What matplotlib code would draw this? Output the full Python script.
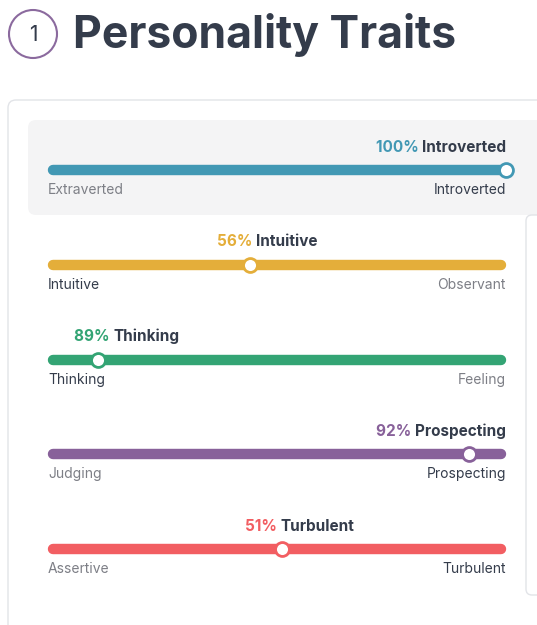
import matplotlib
matplotlib.use("Agg")
import matplotlib.pyplot as plt
from matplotlib.patches import Circle, FancyBboxPatch

traits = ["Introverted", "Intuitive", "Thinking", "Prospecting", "Turbulent"]
percents = [100, 56, 89, 92, 51]
left_labels = ["Extraverted", "Intuitive", "Thinking", "Judging", "Assertive"]
right_labels = ["Introverted", "Observant", "Feeling", "Prospecting", "Turbulent"]
chosen_right = [True, False, False, True, True]
colors = ["#4298b4", "#e4ae3a", "#33a474", "#88619a", "#f25e62"]

W, H = 537, 625
fig = plt.figure(figsize=(W / 100, H / 100), dpi=100)
ax = fig.add_axes([0, 0, 1, 1])
ax.set_xlim(0, W); ax.set_ylim(H, 0); ax.axis("off")
plt.rcParams["font.family"] = ["Inter", "DejaVu Sans"]

dark = "#343c4b"; grey = "#7d7f86"
# header
ax.add_patch(Circle((33, 34), 24, fill=False, ec="#8b6a9e", lw=1.5))
ax.text(33, 35, "1", ha="center", va="center", fontsize=15, color=dark)
ax.text(73, 35, "Personality Traits", ha="left", va="center", fontsize=32,
        fontweight="bold", color=dark)
# card
ax.add_patch(FancyBboxPatch((8, 100), 560, 600, boxstyle="round,pad=0,rounding_size=8",
                            fc="white", ec="#e2e4e8", lw=1))
ax.add_patch(FancyBboxPatch((28, 120), 540, 95, boxstyle="round,pad=0,rounding_size=8",
                            fc="#f4f4f5", ec="none"))
ax.add_patch(FancyBboxPatch((526, 215), 20, 380, boxstyle="round,pad=0,rounding_size=6",
                            fc="white", ec="#e2e4e8", lw=1))

x0, x1 = 48, 506
cap = 5
fig.canvas.draw()
r = fig.canvas.get_renderer()
for i, t in enumerate(traits):
    y = 170 + i * 94.8
    c = colors[i]
    ax.plot([x0 + cap, x1 - cap], [y, y], color=c, lw=7.5, solid_capstyle="round", zorder=2)
    frac = percents[i] / 100 if chosen_right[i] else 1 - percents[i] / 100
    mx = x0 + frac * (x1 - x0)
    ax.plot(mx, y, "o", ms=10, mfc="white", mec=c, mew=2, zorder=3)
    # label above
    p = ax.text(0, y - 23, f"{percents[i]}% ", fontsize=11, fontweight="bold", color=c, va="center")
    n = ax.text(0, y - 23, t, fontsize=11, fontweight="bold", color=dark, va="center")
    wp = p.get_window_extent(r).width; wn = n.get_window_extent(r).width
    start = min(max(mx + 18 - (wp + wn) / 2, x0 + 26), x1 - wp - wn)
    p.set_x(start); n.set_x(start + wp)
    ax.text(x0, y + 20, left_labels[i], fontsize=10, va="center", ha="left",
            color=grey if chosen_right[i] else dark)
    ax.text(x1, y + 20, right_labels[i], fontsize=10, va="center", ha="right",
            color=dark if chosen_right[i] else grey)

fig.savefig("out.png", dpi=100)
